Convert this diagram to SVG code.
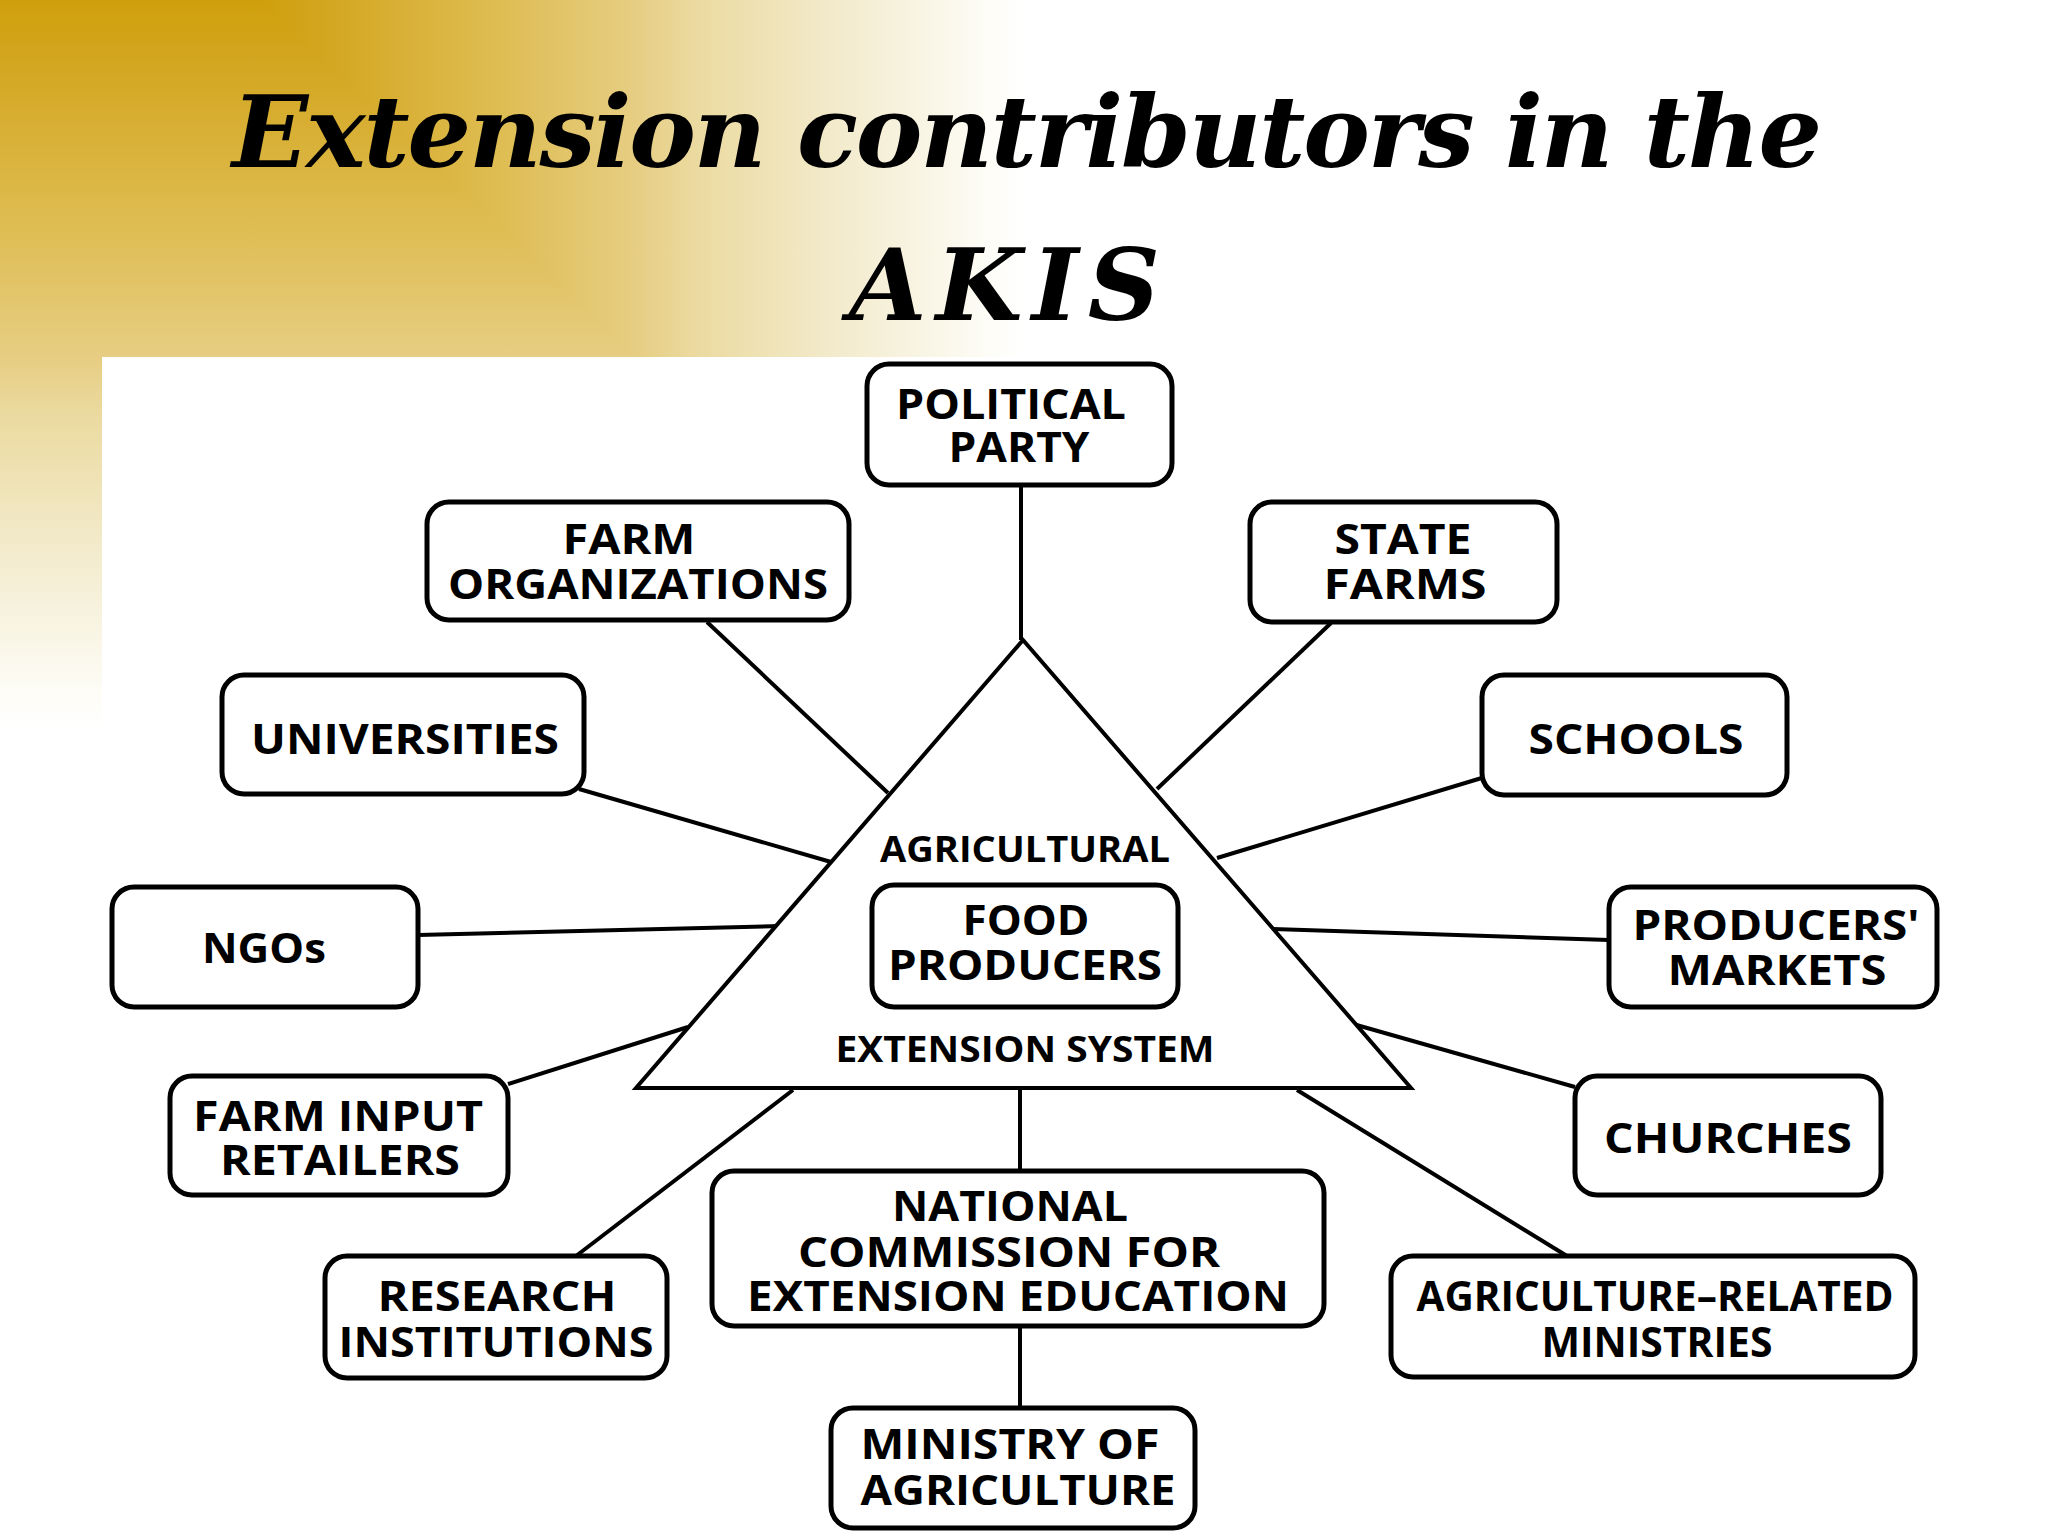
<svg xmlns="http://www.w3.org/2000/svg" width="2048" height="1536" viewBox="0 0 2048 1536">
<defs>
<linearGradient id="gh" gradientUnits="userSpaceOnUse" x1="0" y1="0" x2="1024" y2="0">
<stop offset="0" stop-color="#CC9900"/>
<stop offset="0.25" stop-color="#CF9F0A"/>
<stop offset="0.31" stop-color="#D3A51E"/>
<stop offset="0.48" stop-color="#DEBC50"/>
<stop offset="0.62" stop-color="#E6CD82"/>
<stop offset="0.68" stop-color="#EBDAA0"/>
<stop offset="0.82" stop-color="#F3EBCD"/>
<stop offset="0.96" stop-color="#FDFCF5"/>
<stop offset="1" stop-color="#FFFFFF"/>
</linearGradient>
<linearGradient id="gv" href="#gh" gradientUnits="userSpaceOnUse" x1="0" y1="-247.6" x2="0" y2="727.6"/>
<style>
.box{fill:#fff;stroke:#000;stroke-width:5}
.conn{stroke:#000;stroke-width:4;fill:none}
.lbl{font-family:"Open Sans","DejaVu Sans",sans-serif;font-weight:700;font-size:42px;text-anchor:middle;fill:#000}
.sm{font-size:36px}
.title{font-family:"DejaVu Serif","Liberation Serif",serif;font-style:italic;font-weight:700;font-size:100px;fill:#000}
</style>
</defs>
<g id="background">
<rect x="0" y="0" width="2048" height="1536" fill="url(#gh)"/>
<polygon points="0,0 260,0 1873,1536 0,1536" fill="url(#gv)"/>
<rect x="102" y="357" width="1946" height="1179" fill="#fff"/>
</g>
<g id="title">
<text class="title" x="232" y="167" textLength="1590" lengthAdjust="spacing">Extension contributors in the</text>
<text class="title" x="849" y="320" font-size="106" textLength="311" lengthAdjust="spacing">AKIS</text>
</g>
<g id="connectors">
<line class="conn" x1="1021" y1="485" x2="1021" y2="640"/>
<line class="conn" x1="707" y1="622" x2="888" y2="793"/>
<line class="conn" x1="1331" y1="623" x2="1157" y2="789"/>
<line class="conn" x1="579" y1="789" x2="831" y2="862"/>
<line class="conn" x1="1485" y1="777" x2="1217" y2="858"/>
<line class="conn" x1="418" y1="935" x2="780" y2="926"/>
<line class="conn" x1="1609" y1="940" x2="1273" y2="929"/>
<line class="conn" x1="508" y1="1084" x2="688" y2="1027"/>
<line class="conn" x1="1575" y1="1087" x2="1353" y2="1024"/>
<line class="conn" x1="576" y1="1256" x2="793" y2="1090"/>
<line class="conn" x1="1567" y1="1256" x2="1297" y2="1090"/>
<line class="conn" x1="1020" y1="1090" x2="1020" y2="1171"/>
<line class="conn" x1="1020" y1="1326" x2="1020" y2="1408"/>
</g>
<g id="akis-triangle">
<polygon points="1023,640 636,1088 1411,1088" fill="#fff" stroke="#000" stroke-width="4" stroke-linejoin="miter"/>
<text class="lbl sm" x="1025" y="862" textLength="290" lengthAdjust="spacingAndGlyphs">AGRICULTURAL</text>
<text class="lbl sm" x="1025" y="1062" textLength="379" lengthAdjust="spacingAndGlyphs">EXTENSION SYSTEM</text>
</g>
<g id="food-producers">
<rect class="box" x="872" y="885" width="306" height="122" rx="22"/>
<text class="lbl" x="1026" y="935" textLength="127" lengthAdjust="spacingAndGlyphs">FOOD</text>
<text class="lbl" x="1025" y="980" textLength="274" lengthAdjust="spacingAndGlyphs">PRODUCERS</text>
</g>
<g id="political-party">
<rect class="box" x="867" y="364" width="305" height="121" rx="22"/>
<text class="lbl" x="1011" y="419" textLength="230" lengthAdjust="spacingAndGlyphs">POLITICAL</text>
<text class="lbl" x="1019" y="462" textLength="141" lengthAdjust="spacingAndGlyphs">PARTY</text>
</g>
<g id="farm-organizations">
<rect class="box" x="427" y="502" width="422" height="118" rx="22"/>
<text class="lbl" x="629" y="554" textLength="133" lengthAdjust="spacingAndGlyphs">FARM</text>
<text class="lbl" x="638" y="599" textLength="380" lengthAdjust="spacingAndGlyphs">ORGANIZATIONS</text>
</g>
<g id="state-farms">
<rect class="box" x="1250" y="502" width="307" height="120" rx="22"/>
<text class="lbl" x="1403" y="554" textLength="137" lengthAdjust="spacingAndGlyphs">STATE</text>
<text class="lbl" x="1405" y="599" textLength="163" lengthAdjust="spacingAndGlyphs">FARMS</text>
</g>
<g id="universities">
<rect class="box" x="222" y="675" width="362" height="119" rx="22"/>
<text class="lbl" x="405" y="754" textLength="308" lengthAdjust="spacingAndGlyphs">UNIVERSITIES</text>
</g>
<g id="schools">
<rect class="box" x="1482" y="675" width="305" height="120" rx="22"/>
<text class="lbl" x="1636" y="754" textLength="215" lengthAdjust="spacingAndGlyphs">SCHOOLS</text>
</g>
<g id="ngos">
<rect class="box" x="112" y="887" width="306" height="120" rx="22"/>
<text class="lbl" x="264" y="963" textLength="124" lengthAdjust="spacingAndGlyphs">NGOs</text>
</g>
<g id="producers-markets">
<rect class="box" x="1609" y="887" width="328" height="120" rx="22"/>
<text class="lbl" x="1776" y="940" textLength="287" lengthAdjust="spacingAndGlyphs">PRODUCERS'</text>
<text class="lbl" x="1777" y="985" textLength="219" lengthAdjust="spacingAndGlyphs">MARKETS</text>
</g>
<g id="farm-input-retailers">
<rect class="box" x="170" y="1076" width="338" height="119" rx="22"/>
<text class="lbl" x="338" y="1131" textLength="290" lengthAdjust="spacingAndGlyphs">FARM INPUT</text>
<text class="lbl" x="340" y="1175" textLength="240" lengthAdjust="spacingAndGlyphs">RETAILERS</text>
</g>
<g id="churches">
<rect class="box" x="1575" y="1076" width="306" height="119" rx="22"/>
<text class="lbl" x="1728" y="1153" textLength="248" lengthAdjust="spacingAndGlyphs">CHURCHES</text>
</g>
<g id="research-institutions">
<rect class="box" x="325" y="1256" width="342" height="122" rx="22"/>
<text class="lbl" x="497" y="1311" textLength="239" lengthAdjust="spacingAndGlyphs">RESEARCH</text>
<text class="lbl" x="496" y="1357" textLength="315" lengthAdjust="spacingAndGlyphs">INSTITUTIONS</text>
</g>
<g id="national-commission">
<rect class="box" x="712" y="1171" width="612" height="155" rx="22"/>
<text class="lbl" x="1010" y="1221" textLength="236" lengthAdjust="spacingAndGlyphs">NATIONAL</text>
<text class="lbl" x="1009" y="1267" textLength="422" lengthAdjust="spacingAndGlyphs">COMMISSION FOR</text>
<text class="lbl" x="1018" y="1311" textLength="542" lengthAdjust="spacingAndGlyphs">EXTENSION EDUCATION</text>
</g>
<g id="agriculture-related-ministries">
<rect class="box" x="1391" y="1256" width="524" height="121" rx="22"/>
<text class="lbl" x="1655" y="1311" textLength="477" lengthAdjust="spacingAndGlyphs">AGRICULTURE–RELATED</text>
<text class="lbl" x="1657" y="1357" textLength="231" lengthAdjust="spacingAndGlyphs">MINISTRIES</text>
</g>
<g id="ministry-of-agriculture">
<rect class="box" x="831" y="1408" width="364" height="120" rx="22"/>
<text class="lbl" x="1010" y="1459" textLength="299" lengthAdjust="spacingAndGlyphs">MINISTRY OF</text>
<text class="lbl" x="1018" y="1505" textLength="315" lengthAdjust="spacingAndGlyphs">AGRICULTURE</text>
</g>
</svg>
